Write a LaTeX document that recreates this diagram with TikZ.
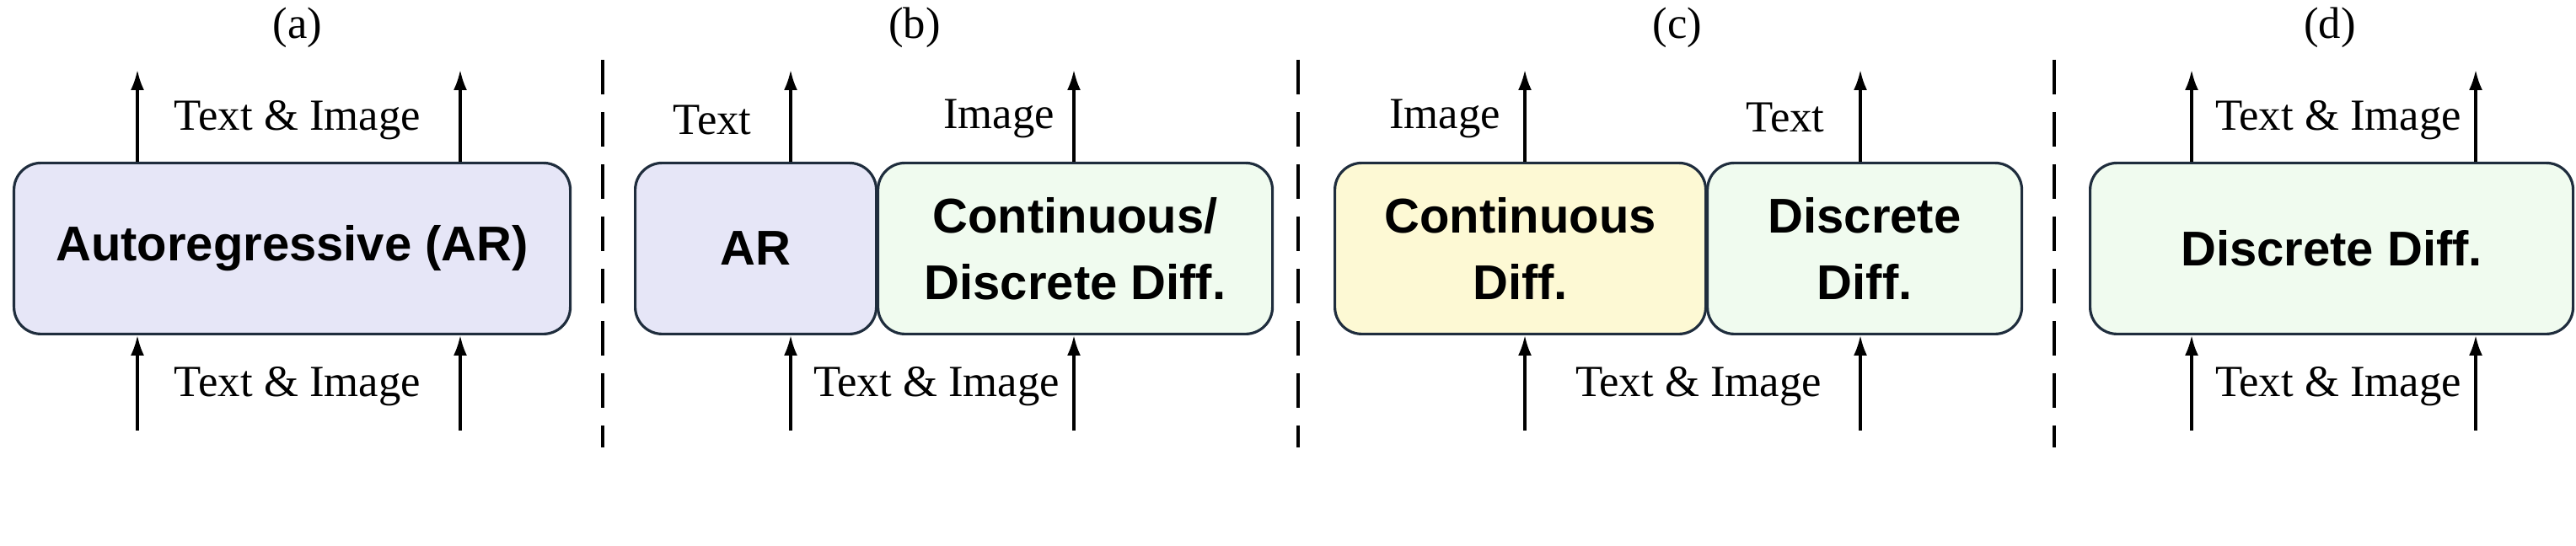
\documentclass[tikz,border=0pt]{standalone}
\usepackage{fontspec}
\setmainfont{Liberation Serif}
\newfontfamily\boxfont{Liberation Sans}
\usetikzlibrary{arrows.meta}
\definecolor{lav}{HTML}{E6E6F7}
\definecolor{grn}{HTML}{F0FBEF}
\definecolor{yel}{HTML}{FDF9D4}
\definecolor{edge}{HTML}{1F2D3D}
\tikzset{
 blk/.style={draw=edge,line width=0.9pt,rounded corners=0.32cm,inner sep=0pt,anchor=south west,align=center,font=\boxfont\bfseries\fontsize{16.5}{22.5}\selectfont},
 lbl/.style={font=\fontsize{15}{18}\selectfont,inner sep=0pt},
 arr/.style={line width=0.9pt,-{Latex[length=2.4mm,width=1.6mm]}},
 sep/.style={line width=0.9pt,dash pattern=on 0.41cm off 0.21cm}
}
\begin{document}
\begin{tikzpicture}
\useasboundingbox (0,0) rectangle (30.56,6.48);
% (a)
\node[blk,fill=lav,minimum width=6.60cm,minimum height=2.03cm] (A) at (0.15,2.50) {Autoregressive (AR)};
\node[lbl] (la) at (3.53,6.15) {(a)};
\coordinate (a1) at (1.63,1.37); \coordinate (a2) at (5.46,1.37);
\coordinate (a3) at (1.63,5.65); \coordinate (a4) at (5.46,5.65);
\draw[arr] (a1) -- (a1|-A.south); \draw[arr] (a2) -- (a2|-A.south);
\draw[arr] (a3|-A.north) -- (a3); \draw[arr] (a4|-A.north) -- (a4);
\node[lbl] (ta) at (3.53,5.05) {Text \& Image};
\node[lbl] (ba) at (3.53,1.89) {Text \& Image};
\coordinate (s1t) at (7.15,5.77); \coordinate (s1b) at (7.15,1.17);
\draw[sep] (s1t) -- (s1b);
% (b)
\node[blk,fill=lav,minimum width=2.86cm,minimum height=2.03cm] (B1) at (7.52,2.50) {AR};
\node[blk,fill=grn,minimum width=4.68cm,minimum height=2.03cm] (B2) at (10.40,2.50) {Continuous/\\Discrete Diff.};
\node[lbl] (lb) at (10.85,6.15) {(b)};
\coordinate (b1) at (9.38,1.37); \coordinate (b2) at (12.74,1.37);
\coordinate (b3) at (9.38,5.65); \coordinate (b4) at (12.74,5.65);
\draw[arr] (b1) -- (b1|-B1.south); \draw[arr] (b2) -- (b2|-B2.south);
\draw[arr] (b3|-B1.north) -- (b3); \draw[arr] (b4|-B2.north) -- (b4);
\node[lbl] (tb1) at (8.45,5.05) {Text};
\node[lbl] (tb2) at (11.85,5.07) {Image};
\node[lbl] (bb) at (11.11,1.89) {Text \& Image};
\coordinate (s2t) at (15.40,5.77); \coordinate (s2b) at (15.40,1.17);
\draw[sep] (s2t) -- (s2b);
% (c)
\node[blk,fill=yel,minimum width=4.40cm,minimum height=2.03cm] (C1) at (15.82,2.50) {Continuous\\Diff.};
\node[blk,fill=grn,minimum width=3.73cm,minimum height=2.03cm] (C2) at (20.24,2.50) {Discrete\\Diff.};
\node[lbl] (lc) at (19.90,6.15) {(c)};
\coordinate (c1) at (18.09,1.37); \coordinate (c2) at (22.07,1.37);
\coordinate (c3) at (18.09,5.65); \coordinate (c4) at (22.07,5.65);
\draw[arr] (c1) -- (c1|-C1.south); \draw[arr] (c2) -- (c2|-C2.south);
\draw[arr] (c3|-C1.north) -- (c3); \draw[arr] (c4|-C2.north) -- (c4);
\node[lbl] (tc1) at (17.14,5.07) {Image};
\node[lbl] (tc2) at (21.18,5.08) {Text};
\node[lbl] (bc) at (20.15,1.89) {Text \& Image};
\coordinate (s3t) at (24.37,5.77); \coordinate (s3b) at (24.37,1.17);
\draw[sep] (s3t) -- (s3b);
% (d)
\node[blk,fill=grn,minimum width=5.73cm,minimum height=2.03cm] (D) at (24.78,2.50) {Discrete Diff.};
\node[lbl] (ld) at (27.64,6.15) {(d)};
\coordinate (d1) at (26.00,1.37); \coordinate (d2) at (29.37,1.37);
\coordinate (d3) at (26.00,5.65); \coordinate (d4) at (29.37,5.65);
\draw[arr] (d1) -- (d1|-D.south); \draw[arr] (d2) -- (d2|-D.south);
\draw[arr] (d3|-D.north) -- (d3); \draw[arr] (d4|-D.north) -- (d4);
\node[lbl] (td) at (27.74,5.05) {Text \& Image};
\node[lbl] (bd) at (27.74,1.89) {Text \& Image};
\end{tikzpicture}
\end{document}
